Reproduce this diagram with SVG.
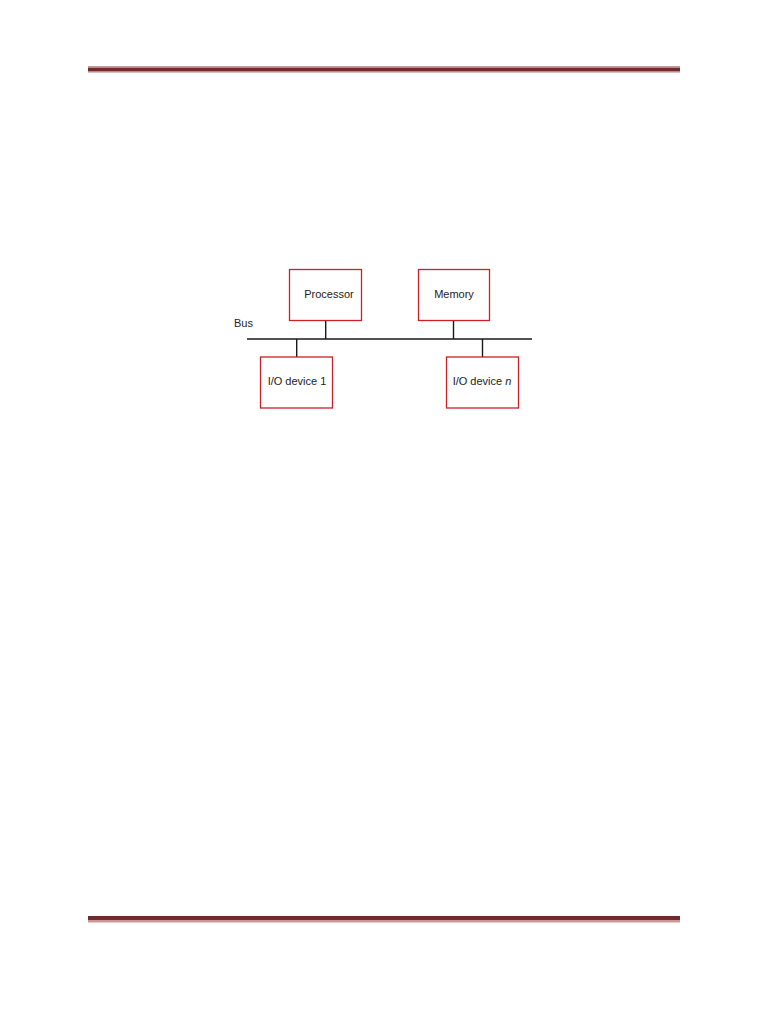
<svg xmlns="http://www.w3.org/2000/svg" width="768" height="1024" viewBox="0 0 768 1024">
<style>
.box{fill:#fff;stroke:#cc2027;stroke-width:1.3}
.t{font-family:"Liberation Sans",Arial,sans-serif;font-size:11px;fill:#222}
.c{stroke:#1a1a1a;stroke-width:1.4;fill:none}
</style>
<rect width="768" height="1024" fill="#fff"/>
<g id="header-rule">
<rect x="88" y="66" width="592" height="1.2" fill="#c89a9a"/>
<rect x="88" y="67.5" width="592" height="4" fill="#722a2a"/>
<rect x="88" y="71.5" width="592" height="1" fill="#b88080"/>
</g>
<g id="footer-rule">
<rect x="88" y="916" width="592" height="4" fill="#722a2a"/>
<rect x="88" y="920" width="592" height="2.5" fill="#c89898"/>
</g>
<g id="connectors">
<line class="c" x1="247" y1="339" x2="532" y2="339"/>
<line class="c" x1="325.7" y1="320.5" x2="325.7" y2="339"/>
<line class="c" x1="453.5" y1="320.5" x2="453.5" y2="339"/>
<line class="c" x1="296.7" y1="339" x2="296.7" y2="357"/>
<line class="c" x1="482.5" y1="339" x2="482.5" y2="357"/>
</g>
<g id="bus-label"><text class="t" x="234" y="327">Bus</text></g>
<g id="processor">
<rect class="box" x="289.5" y="269.5" width="72" height="51"/>
<text class="t" x="329" y="298" text-anchor="middle">Processor</text>
</g>
<g id="memory">
<rect class="box" x="418.5" y="269.5" width="71" height="51"/>
<text class="t" x="454" y="298" text-anchor="middle">Memory</text>
</g>
<g id="io1">
<rect class="box" x="260.5" y="357" width="72" height="51"/>
<text class="t" x="297" y="385" text-anchor="middle">I/O device 1</text>
</g>
<g id="ion">
<rect class="box" x="446.5" y="357" width="72" height="51"/>
<text class="t" x="482" y="385" text-anchor="middle">I/O device <tspan font-style="italic">n</tspan></text>
</g>
</svg>
